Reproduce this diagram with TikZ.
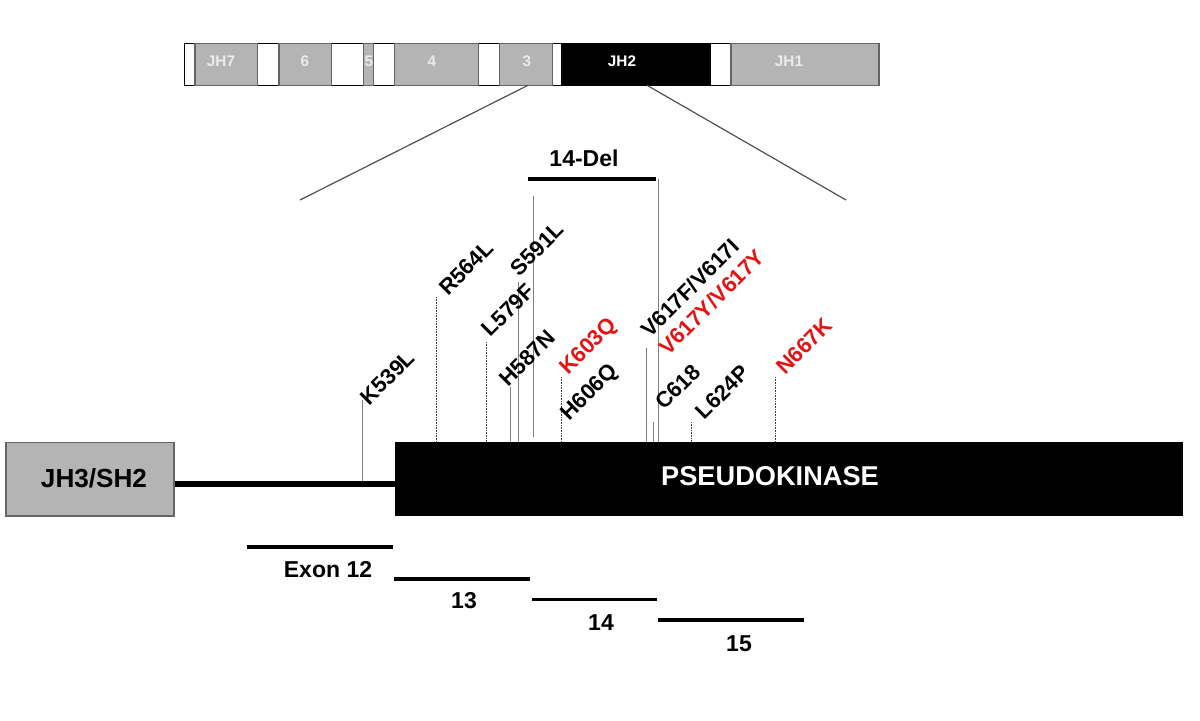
\documentclass[tikz,border=0pt]{standalone}
\usepackage{fontspec}
\setmainfont{Liberation Sans}
\definecolor{mred}{RGB}{228,20,20}
\definecolor{boxgray}{RGB}{180,180,180}
\definecolor{edgegray}{RGB}{100,100,100}
\definecolor{lensgray}{RGB}{80,80,80}
\begin{document}
\begin{tikzpicture}[x=0.75pt,y=-0.75pt,
  dom/.style={draw=edgegray, fill=boxgray, line width=0.8pt, inner sep=0pt},
  toplab/.style={font=\bfseries\fontsize{11.5}{11.5}\selectfont, text=white!92!black, inner sep=0pt},
  mut/.style={font=\bfseries\fontsize{16.5}{16.5}\selectfont, rotate=45, inner sep=0pt, anchor=center},
  redmut/.style={mut, text=mred},
  exlab/.style={font=\bfseries\fontsize{17.25}{17.25}\selectfont, inner sep=0pt, anchor=base},
  exline/.style={line width=2.6pt},
  vline/.style={draw=black!50, line width=0.75pt},
  dline/.style={draw=black!75, line width=0.75pt, dash pattern=on 0.6pt off 0.6pt},
  lens/.style={draw=lensgray, line width=0.9pt}
]
\useasboundingbox (0,0) rectangle (1200,721);

% ---- top domain bar ----
\node[draw=black, fill=white, line width=0.75pt, inner sep=0pt, minimum width=521.25pt, minimum height=31.3pt] (bar) at (531.5,64.2) {};
\node[dom, minimum width=47pt,   minimum height=31.3pt] (jh7) at (226.35,64.2) {};
\node[dom, minimum width=39.5pt, minimum height=31.3pt] (d6)  at (305.35,64.2) {};
\node[dom, minimum width=7.5pt,  minimum height=31.3pt] (d5)  at (368.3,64.2) {};
\node[dom, minimum width=63pt,   minimum height=31.3pt] (d4)  at (436.3,64.2) {};
\node[dom, minimum width=39.75pt,minimum height=31.3pt] (d3)  at (525.8,64.2) {};
\node[draw=black, fill=black, inner sep=0pt, minimum width=111.75pt, minimum height=31.3pt] (jh2) at (636.2,64.2) {};
\node[dom, minimum width=111pt,  minimum height=31.3pt] (jh1) at (805,64.2) {};
\node[toplab] (tjh7) at (221,61) {JH7};
\node[toplab] (t6)   at (305,61) {6};
\node[toplab] (t5)   at (369,61) {5};
\node[toplab] (t4)   at (432,61) {4};
\node[toplab] (t3)   at (527,61) {3};
\node[toplab, text=white] (tjh2) at (622,61) {JH2};
\node[toplab] (tjh1) at (789,61) {JH1};

% ---- lens lines ----
\coordinate (lensL) at (300,200);
\coordinate (lensR) at (846,200);
\coordinate (lensLt) at (528,85.3);
\coordinate (lensRt) at (647,85.3);
\draw[lens] (lensLt) -- (lensL);
\draw[lens] (lensRt) -- (lensR);

% ---- main domains ----
\node[draw=edgegray, fill=boxgray, line width=0.9pt, inner sep=0pt, minimum width=126pt, minimum height=55pt] (jh3) at (90,479.4) {};
\node[font=\bfseries\fontsize{19.6}{19.6}\selectfont, inner sep=0pt] (tjh3) at (94,478) {JH3/SH2};
\node[fill=black, inner sep=0pt, minimum width=591pt, minimum height=55.5pt] (pk) at (789,479) {};
\node[font=\bfseries\fontsize{20.4}{20.4}\selectfont, text=white, inner sep=0pt] (tpk) at (770,476) {PSEUDOKINASE};
\draw[line width=5pt] (jh3.east |- 0,484) -- (pk.west |- 0,484);

% ---- 14-Del ----
\coordinate (delA) at (528,179);
\coordinate (delB) at (656,179);
\draw[exline] (delA) -- (delB);
\node[exlab] (tdel) at (584,166) {14-Del};

% ---- mutation ticks ----
\coordinate (m539) at (362.7,400);   \coordinate (m539b) at (362.7,481);
\coordinate (m564) at (436.7,297);
\coordinate (m579) at (486.7,342);
\coordinate (m587) at (510,387);
\coordinate (m591) at (518,282);
\coordinate (mdl)  at (533.5,196);   \coordinate (mdlb) at (533.5,437);
\coordinate (m603) at (561.7,377);
\coordinate (m617) at (646.7,348);
\coordinate (m618) at (653,422);
\coordinate (mdr)  at (658.5,179);
\coordinate (m624) at (691.7,422);
\coordinate (m667) at (775.7,377);

\draw[vline] (m539) -- (m539b);
\draw[dline] (m564) -- (m564 |- pk.north);
\draw[dline] (m579) -- (m579 |- pk.north);
\draw[vline] (m587) -- (m587 |- pk.north);
\draw[vline] (m591) -- (m591 |- pk.north);
\draw[vline] (mdl) -- (mdlb);
\draw[dline] (m603) -- (m603 |- pk.north);
\draw[vline] (m617) -- (m617 |- pk.north);
\draw[vline] (m618) -- (m618 |- pk.north);
\draw[vline] (mdr) -- (mdr |- pk.north);
\draw[dline] (m624) -- (m624 |- pk.north);
\draw[dline] (m667) -- (m667 |- pk.north);

% ---- mutation labels ----
\node[mut]    (lk539) at (387.5,377.5) {K539L};
\node[mut]    (lr564) at (466,268) {R564L};
\node[mut]    (ls591) at (537,249) {S591L};
\node[mut]    (ll579) at (508,310) {L579F};
\node[mut]    (lh587) at (527,358) {H587N};
\node[redmut] (lk603) at (589,347) {K603Q};
\node[mut]    (lh606) at (590,393) {H606Q};
\node[mut]    (lv617) at (690,288) {V617F/V617I};
\node[redmut] (lv617y) at (712,302) {V617Y/V617Y};
\node[mut]    (lc618) at (678,387) {C618};
\node[mut]    (ll624) at (722.5,392) {L624P};
\node[redmut] (ln667) at (804,346) {N667K};

% ---- exons ----
\coordinate (e12a) at (246.7,547);  \coordinate (e12b) at (393.3,547);
\coordinate (e13a) at (394.3,579);  \coordinate (e13b) at (530,579);
\coordinate (e14a) at (532,599.5);  \coordinate (e14b) at (657,599.5);
\coordinate (e15a) at (658,620);    \coordinate (e15b) at (804,620);
\draw[exline] (e12a) -- (e12b);
\draw[exline] (e13a) -- (e13b);
\draw[exline] (e14a) -- (e14b);
\draw[exline] (e15a) -- (e15b);
\node[exlab] (te12) at (328,577) {Exon 12};
\node[exlab] (te13) at (464,608.3) {13};
\node[exlab] (te14) at (601,630) {14};
\node[exlab] (te15) at (739,651) {15};
\end{tikzpicture}
\end{document}
